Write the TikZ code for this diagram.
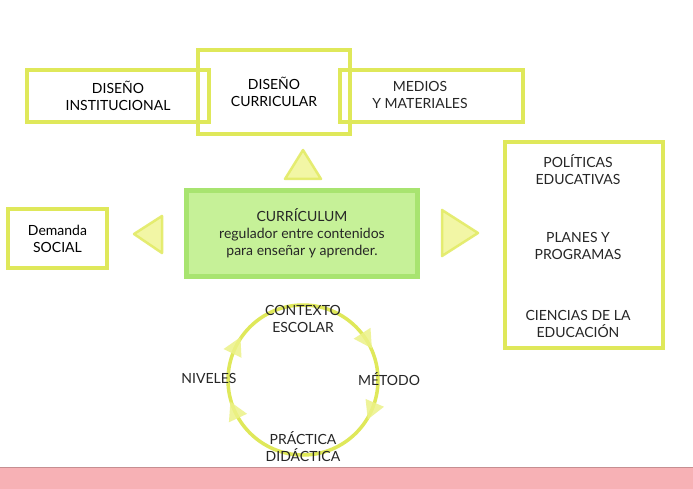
\documentclass[tikz,border=0pt]{standalone}
\usepackage{fontspec}
\setmainfont{Lato}
\usetikzlibrary{calc}
\definecolor{yb}{HTML}{DFE85A}
\definecolor{yf}{HTML}{F1F69C}
\definecolor{gb}{HTML}{A8E470}
\definecolor{gf}{HTML}{C6F198}
\definecolor{pk}{HTML}{F7B1B5}
\begin{document}
\begin{tikzpicture}[x=1pt,y=-1pt,
  ybox/.style={draw=yb,line width=3.5pt,align=center,font=\fontsize{14}{17}\selectfont,inner sep=0},
  tri/.style={fill=yf,draw=yb!80!yf,line width=2.5pt,line join=round,opacity=.9},
  lbl/.style={font=\fontsize{14}{17}\selectfont,align=center,text=black!85}]
\useasboundingbox (0,0) rectangle (693,489);
\fill[white] (0,0) rectangle (693,489);
\fill[pk] (0,467) rectangle (693,489);
\draw[pk!80!black,line width=.6pt] (0,467)--(693,467);
\node[ybox,minimum width=182,minimum height=52] (di) at (118,96) {\raisebox{0pt}{DISEÑO}\\INSTITUCIONAL};
\node[ybox,minimum width=183,minimum height=52] (mm) at (431.5,96) {};
\node[lbl] at (420,95) {MEDIOS\\Y MATERIALES};
\node[ybox,minimum width=152,minimum height=84] (dc) at (274,92) {DISEÑO\\CURRICULAR};
\node[ybox,minimum width=99,minimum height=59] (ds) at (57.5,238.5) {Demanda\\SOCIAL};
\node[ybox,minimum width=158,minimum height=206] (pp) at (584,245) {};
\node[lbl] at (578,170) {POLÍTICAS\\EDUCATIVAS};
\node[lbl] at (578,246) {PLANES Y\\PROGRAMAS};
\node[lbl] at (578,324) {CIENCIAS DE LA\\EDUCACIÓN};
\node[draw=gb,fill=gf,line width=5pt,minimum width=231,minimum height=86,inner sep=0,
  lbl] (cu) at (302,233.5) {CURRÍCULUM\\regulador entre contenidos\\para enseñar y aprender.};
\draw[tri] (303,150)--(285,179)--(321,179)--cycle;
\draw[tri] (134,234)--(162,216)--(162,253)--cycle;
\draw[tri] (478,233)--(442,210)--(442,256)--cycle;
\coordinate (c) at (303,380);
\draw[yb,line width=3.5pt] (c) circle (75);
\foreach \t in {-33,23,155,206}{
  \coordinate (p) at ($(c)+(\t:75)$);
  \fill[yf!70!yb,opacity=.85] ($(p)+(\t+90:11)$) -- ($(p)+(\t+90:-7)+(\t:10)$) -- ($(p)+(\t+90:-7)+(\t:-10)$) -- cycle;
}
\node[lbl] (ce) at (303,319) {CONTEXTO\\ESCOLAR};
\node[lbl] (me) at (389,379) {MÉTODO};
\node[lbl] (ni) at (209,378) {NIVELES};
\node[lbl] (pd) at (303,447) {PRÁCTICA\\DIDÁCTICA};
\end{tikzpicture}
\end{document}
